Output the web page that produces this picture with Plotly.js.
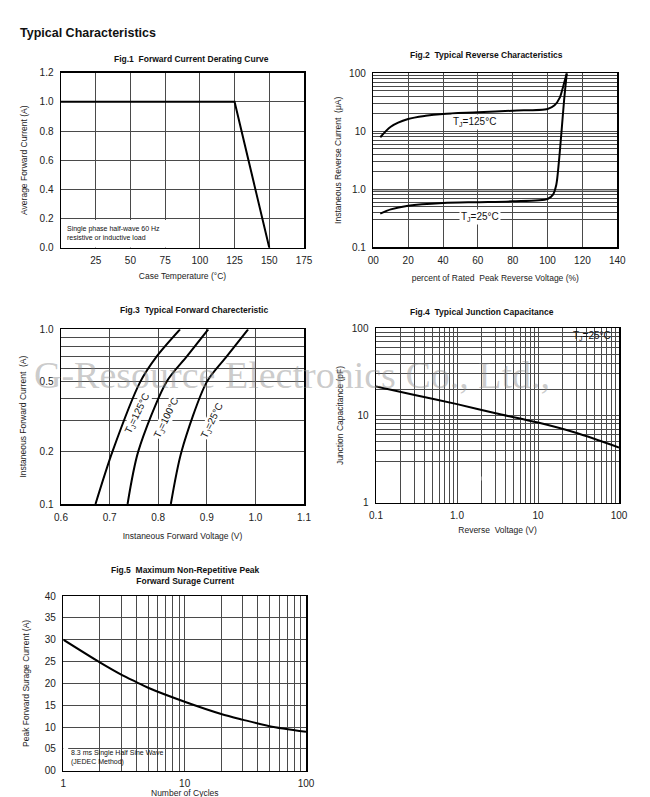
<!DOCTYPE html>
<html><head><meta charset="utf-8">
<script src="https://cdn.plot.ly/plotly-3.0.1.min.js"></script>
<style>html,body{margin:0;padding:0;background:#fff}</style>
</head><body><div id="chart" style="width:650px;height:797px"></div>
<script>
// ---------- Fig.1 Forward Current Derating Curve ----------
const fig1Temp = [0, 125, 150];
const fig1Current = [1.0, 1.0, 0.0];
const fig1XTicks = [25, 50, 75, 100, 125, 150, 175];
const fig1YTicks = [0, 0.2, 0.4, 0.6, 0.8, 1.0, 1.2];
const fig1YText = ['0.0', '0.2', '0.4', '0.6', '0.8', '1.0', '1.2'];

// ---------- Fig.2 Typical Reverse Characteristics ----------
const fig2Pct125 = [4, 10, 20, 30, 40, 60, 80, 100, 104, 107, 109, 111];
const fig2Cur125 = [7.9, 12, 16.3, 18.5, 19.9, 21.2, 22.7, 24.3, 28, 38, 60, 100];
const fig2Pct25 = [4, 10, 20, 40, 60, 80, 100, 103, 105, 106.5, 108, 109.5, 111];
const fig2Cur25 = [0.38, 0.45, 0.52, 0.58, 0.6, 0.62, 0.68, 0.8, 1.2, 3, 10, 35, 100];
const fig2XTicks = [0, 20, 40, 60, 80, 100, 120, 140];
const fig2XText = ['00', '20', '40', '60', '80', '100', '120', '140'];
const fig2YTicks = [0.1, 1, 10, 100];
const fig2YText = ['0.1', '1.0', '10', '100'];

// ---------- Fig.3 Typical Forward Characteristic ----------
const fig3Cur = [0.1, 0.2, 0.5, 0.7, 1.0];
const fig3V125 = [0.671, 0.706, 0.763, 0.797, 0.845];
const fig3V100 = [0.737, 0.759, 0.817, 0.859, 0.903];
const fig3V25 = [0.826, 0.848, 0.900, 0.941, 0.985];
const fig3XTicks = [0.6, 0.7, 0.8, 0.9, 1.0, 1.1];
const fig3XText = ['0.6', '0.7', '0.8', '0.9', '1.0', '1.1'];
const fig3YTicks = [0.1, 0.2, 0.5, 1.0];
const fig3YText = ['0.1', '0.2', '0.5', '1.0'];

// ---------- Fig.4 Typical Junction Capacitance ----------
const fig4Volt = [0.1, 0.3, 1, 3, 10, 30, 100];
const fig4Cap = [21.5, 17.2, 13.5, 10.6, 8.3, 6.3, 4.3];
const fig4XTicks = [0.1, 1, 10, 100];
const fig4XText = ['0.1', '1.0', '10', '100'];
const fig4YTicks = [1, 10, 100];
const fig4YText = ['1', '10', '100'];

// ---------- Fig.5 Maximum Non-Repetitive Peak Forward Surge Current ----------
const fig5Cycles = [1, 2, 3, 4, 5, 10, 20, 30, 50, 100];
const fig5Surge = [30, 24.8, 22, 20.3, 19, 15.8, 13, 11.7, 10.2, 8.9];
const fig5XTicks = [1, 10, 100];
const fig5XText = ['1', '10', '100'];
const fig5YTicks = [0, 5, 10, 15, 20, 25, 30, 35, 40];
const fig5YText = ['00', '05', '10', '15', '20', '25', '30', '35', '40'];

// ---------- helpers ----------
const W = 650, H = 797;
const FONT = 'Arial, "Liberation Sans", Helvetica, sans-serif';
function logGrid(e0, e1, skipVals) {
  const out = [];
  for (let e = e0; e < e1; e++) for (let m = 1; m <= 9; m++) {
    out.push(Number((m * Math.pow(10, e)).toPrecision(6)));
  }
  out.push(Number(Math.pow(10, e1).toPrecision(6)));
  return skipVals ? out.filter(v => !skipVals.some(s => Math.abs(v - s) / s < 1e-6)) : out;
}
function labelFor(vals, majors, texts) {
  return vals.map(v => {
    const i = majors.findIndex(m => Math.abs(v - m) / m < 1e-6);
    return i >= 0 ? texts[i] : '';
  });
}
function dx(px0, px1) { return [px0 / W, px1 / W]; }
function dy(top, bottom) { return [1 - bottom / H, 1 - top / H]; }
function ax(extra) {
  return Object.assign({
    showline: true, mirror: true, linecolor: '#000', linewidth: 1.5,
    showgrid: true, gridcolor: '#4a4a4a', gridwidth: 1, zeroline: false,
    ticks: 'outside', ticklen: 3, tickcolor: 'rgba(0,0,0,0)',
    tickfont: { family: FONT, size: 10, color: '#222' },
    fixedrange: true, tickmode: 'array'
  }, extra);
}
function ttl(text, standoff) {
  return { text: text, standoff: standoff, font: { family: FONT, size: 8.5, color: '#222' } };
}
const curve = { color: '#000', width: 2, shape: 'spline', smoothing: 0.8 };

const fig2Grid = logGrid(-1, 2, [0.2]);
const fig3Grid = logGrid(-1, 0);
const fig4XGrid = logGrid(-1, 2);
const fig4YGrid = logGrid(0, 2, [2]);
const fig5XGrid = logGrid(0, 2);

const traces = [
  { x: fig1Temp, y: fig1Current, xaxis: 'x', yaxis: 'y', mode: 'lines', line: { color: '#000', width: 2 } },
  { x: fig2Pct125, y: fig2Cur125, xaxis: 'x2', yaxis: 'y2', mode: 'lines', line: curve },
  { x: fig2Pct25, y: fig2Cur25, xaxis: 'x2', yaxis: 'y2', mode: 'lines', line: curve },
  { x: fig3V125, y: fig3Cur, xaxis: 'x3', yaxis: 'y3', mode: 'lines', line: curve },
  { x: fig3V100, y: fig3Cur, xaxis: 'x3', yaxis: 'y3', mode: 'lines', line: curve },
  { x: fig3V25, y: fig3Cur, xaxis: 'x3', yaxis: 'y3', mode: 'lines', line: curve },
  { x: fig4Volt, y: fig4Cap, xaxis: 'x4', yaxis: 'y4', mode: 'lines', line: curve },
  { x: fig5Cycles, y: fig5Surge, xaxis: 'x5', yaxis: 'y5', mode: 'lines', line: curve }
];

function pa(text, px, py, opts) {
  return Object.assign({ text: text, xref: 'paper', yref: 'paper', x: px / W, y: 1 - py / H,
    xanchor: 'center', yanchor: 'middle',
    showarrow: false, font: { family: FONT, size: 8.5, color: '#111' } }, opts || {});
}
const L10 = Math.log10;
const band = (xr, yr, lo, hi, x0, x1) => ({ type: 'rect', xref: xr, yref: yr, x0: x0, x1: x1, y0: L10(lo), y1: L10(hi),
  fillcolor: 'rgba(110,110,110,0.55)', line: { width: 0 }, layer: 'between' });

const layout = {
  width: W, height: H, margin: { l: 0, r: 0, t: 0, b: 0 },
  paper_bgcolor: '#fff', plot_bgcolor: '#fff', showlegend: false,
  xaxis: ax({ domain: dx(61, 304), range: [0, 175], tickvals: fig1XTicks, ticktext: fig1XTicks.map(String), anchor: 'y',
    title: ttl('Case Temperature (°C)', 8) }),
  yaxis: ax({ domain: dy(72.7, 247.7), range: [0, 1.2], tickvals: fig1YTicks, ticktext: fig1YText, anchor: 'x', ticklen: 4,
    title: ttl('Average Forward Current (A)', 10) }),
  xaxis2: ax({ domain: dx(373.3, 617.3), range: [0, 140], tickvals: fig2XTicks, ticktext: fig2XText, anchor: 'y2',
    title: ttl('percent of Rated  Peak Reverse Voltage (%)', 10) }),
  yaxis2: ax({ domain: dy(73.3, 247.3), type: 'log', range: [-1, 2], tickvals: fig2Grid, ticktext: labelFor(fig2Grid, fig2YTicks, fig2YText), anchor: 'x2', ticklen: 4,
    title: ttl('Instaneous Reverse Current  (μA)', 6) }),
  xaxis3: ax({ domain: dx(61, 304), range: [0.6, 1.1], tickvals: fig3XTicks, ticktext: fig3XText, anchor: 'y3',
    title: ttl('Instaneous Forward Voltage (V)', 11) }),
  yaxis3: ax({ domain: dy(329.3, 504), type: 'log', range: [-1, 0], tickvals: fig3Grid, ticktext: labelFor(fig3Grid, fig3YTicks, fig3YText), anchor: 'x3', ticklen: 4,
    title: ttl('Instaneous Forward Current  (A)', 11) }),
  xaxis4: ax({ domain: dx(376, 619), type: 'log', range: [-1, 2], tickvals: fig4XGrid, ticktext: labelFor(fig4XGrid, fig4XTicks, fig4XText), anchor: 'y4',
    title: ttl('Reverse  Voltage (V)', 7) }),
  yaxis4: ax({ domain: dy(328.3, 502.7), type: 'log', range: [0, 2], tickvals: fig4YGrid, ticktext: labelFor(fig4YGrid, fig4YTicks, fig4YText), anchor: 'x4', ticklen: 4,
    title: ttl('Junction Capacitance (pF)', 7) }),
  xaxis5: ax({ domain: dx(63.3, 306), type: 'log', range: [0, 2], tickvals: fig5XGrid, ticktext: labelFor(fig5XGrid, fig5XTicks, fig5XText), anchor: 'y5' }),
  yaxis5: ax({ domain: dy(596, 770.7), range: [0, 40], tickvals: fig5YTicks, ticktext: fig5YText, anchor: 'x5', ticklen: 4,
    title: ttl('Peak Forward Surage Current (A)', 13) }),
  shapes: [
    // white label boxes that interrupt the grid
    { type: 'rect', xref: 'x', yref: 'y', x0: 0, x1: 90, y0: 0, y1: 0.19, fillcolor: '#fff', line: { width: 0 }, layer: 'between' },
    { type: 'rect', xref: 'x5', yref: 'y5', x0: 0, x1: L10(12.5), y0: 0, y1: 7.5, fillcolor: '#fff', line: { width: 0 }, layer: 'between' },
    { type: 'rect', xref: 'x4', yref: 'y4', x0: L10(24), x1: 2, y0: L10(62), y1: 2, fillcolor: '#fff', line: { width: 0 }, layer: 'between' },
    // dense grey bands of the scanned log grid
    band('x2', 'y2', 0.85, 1.0, 0, 140),
    band('x2', 'y2', 8.5, 10, 0, 140),
    // dashed grid rows
    { type: 'line', xref: 'x2', yref: 'y2', x0: 0, x1: 140, y0: L10(0.2), y1: L10(0.2), line: { color: '#666', width: 1, dash: 'dash' }, layer: 'between' },
    { type: 'line', xref: 'x4', yref: 'y4', x0: -1, x1: 2, y0: L10(2), y1: L10(2), line: { color: '#666', width: 1, dash: 'dash' }, layer: 'between' }
  ],
  annotations: [
    pa('<b>Typical Characteristics</b>', 18, 33, { xanchor: 'left', font: { family: FONT, size: 12.5, color: '#111' } }),
    pa('<b>Fig.1  Forward Current Derating Curve</b>', 191, 59),
    pa('<b>Fig.2  Typical Reverse Characteristics</b>', 486, 55),
    pa('<b>Fig.3  Typical Forward Charecteristic</b>', 194, 310),
    pa('<b>Fig.4  Typical Junction Capacitance</b>', 482, 312),
    pa('<b>Fig.5  Maximum Non-Repetitive Peak<br>Forward Surage Current</b>', 185, 575.5),
    pa('Number of Cycles', 185, 792.5, { font: { family: FONT, size: 8.5, color: '#222' } }),
    // in-plot labels
    { text: 'Single phase half-wave 60 Hz<br>resistive or inductive load', xref: 'x', yref: 'y', x: 3, y: 0.1, xanchor: 'left', yanchor: 'middle', align: 'left',
      showarrow: false, font: { family: FONT, size: 7, color: '#111' } },
    { text: '8.3 ms Single Half Sine Wave<br>(JEDEC Method)', xref: 'x5', yref: 'y5', x: L10(1.12), y: 3.0, xanchor: 'left', yanchor: 'middle', align: 'left',
      showarrow: false, font: { family: FONT, size: 7, color: '#111' } },
    { text: 'T<sub>J</sub>=125°C', xref: 'x2', yref: 'y2', x: 58, y: L10(14.5), showarrow: false, bgcolor: '#fff', borderpad: 1,
      font: { family: FONT, size: 10, color: '#111' } },
    { text: 'T<sub>J</sub>=25°C', xref: 'x2', yref: 'y2', x: 61, y: L10(0.33), showarrow: false, bgcolor: '#fff', borderpad: 1,
      font: { family: FONT, size: 10, color: '#111' } },
    { text: 'T<sub>J</sub>=25°C', xref: 'x4', yref: 'y4', x: L10(46), y: L10(82), showarrow: false,
      font: { family: FONT, size: 10, color: '#111' } },
    { text: 'T<sub>J</sub>=125°C', xref: 'x3', yref: 'y3', x: 0.758, y: L10(0.33), textangle: -64, showarrow: false, bgcolor: '#fff', borderpad: 0,
      font: { family: FONT, size: 10, color: '#111' } },
    { text: 'T<sub>J</sub>=100°C', xref: 'x3', yref: 'y3', x: 0.817, y: L10(0.31), textangle: -64, showarrow: false, bgcolor: '#fff', borderpad: 0,
      font: { family: FONT, size: 10, color: '#111' } },
    { text: 'T<sub>J</sub>=25°C', xref: 'x3', yref: 'y3', x: 0.910, y: L10(0.30), textangle: -64, showarrow: false, bgcolor: '#fff', borderpad: 0,
      font: { family: FONT, size: 10, color: '#111' } },
    // watermark
    pa('G-Resource Electronics Co., Ltd.,', 292, 375, { font: { family: '"Liberation Serif", "Times New Roman", serif', size: 38, color: 'rgba(140,140,140,0.45)' } })
  ]
};

Plotly.newPlot('chart', traces, layout, { staticPlot: true, displayModeBar: false });
</script>
</body></html>
